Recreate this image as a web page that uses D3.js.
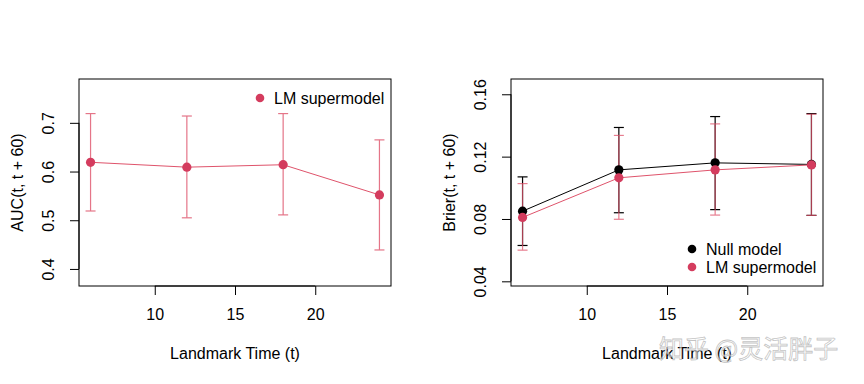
<!DOCTYPE html>
<html lang="en">
<head>
    <meta charset="UTF-8">
    <title>AUC and Brier by Landmark Time</title>
    <script src="https://d3js.org/d3.v7.min.js"></script>
    <style>
        body {
            margin: 0;
            background: #fff;
            font-family: "Liberation Sans", Arial, sans-serif;
        }
        .axis text {
            font-size: 16px;
            font-family: "Liberation Sans", Arial, sans-serif;
            fill: #000;
        }
        .title {
            font-size: 16px;
            fill: #000;
        }
    </style>
</head>
<body>
    <svg width="864" height="384"></svg>

    <script>
        // data
        const landmarks = [6, 12, 18, 24];

        const aucLM = [0.619, 0.609, 0.614, 0.552];
        const aucLMLow = [0.519, 0.505, 0.511, 0.439];
        const aucLMHigh = [0.719, 0.714, 0.719, 0.665];

        const brierNull = [0.085, 0.1115, 0.116, 0.115];
        const brierNullLow = [0.063, 0.084, 0.086, 0.0823];
        const brierNullHigh = [0.107, 0.1387, 0.1457, 0.1476];

        const brierLM = [0.081, 0.1064, 0.1115, 0.1147];
        const brierLMLow = [0.060, 0.0798, 0.0825, 0.0823];
        const brierLMHigh = [0.1027, 0.1336, 0.141, 0.1472];

        const xTicks = [10, 15, 20];
        const aucTicks = [0.4, 0.5, 0.6, 0.7];
        const brierTicks = [0.04, 0.08, 0.12, 0.16];

        const red = "#DF536B";
        const redPoint = "#D43C5E";

        const svg = d3.select("svg");
        const boxTop = 79, boxBottom = 286;

        function panel(left, right, yDomain, yTicks, yFormat, yTitle, series, legend) {
            const x = d3.scaleLinear().domain([5.28, 24.72]).range([left, right]);
            const y = d3.scaleLinear().domain(yDomain).range([boxBottom, boxTop]);
            const g = svg.append("g");

            // error bars first
            series.forEach(s => {
                const eb = g.append("g").attr("opacity", s.barOpacity);
                landmarks.forEach((t, i) => {
                    eb.append("line")
                        .attr("x1", x(t)).attr("x2", x(t))
                        .attr("y1", y(s.low[i])).attr("y2", y(s.high[i]))
                        .attr("stroke", s.color).attr("stroke-width", 1.2);
                    [s.low[i], s.high[i]].forEach(v => {
                        eb.append("line")
                            .attr("x1", x(t) - 5).attr("x2", x(t) + 5)
                            .attr("y1", y(v)).attr("y2", y(v))
                            .attr("stroke", s.color).attr("stroke-width", 1.2);
                    });
                });
            });

            series.forEach(s => {
                const line = d3.line()
                    .x((d, i) => x(landmarks[i]))
                    .y(d => y(d));
                g.append("path")
                    .datum(s.values)
                    .attr("d", line)
                    .attr("fill", "none")
                    .attr("stroke", s.color)
                    .attr("stroke-width", 1);
                g.selectAll(null)
                    .data(s.values)
                    .enter().append("circle")
                    .attr("cx", (d, i) => x(landmarks[i]))
                    .attr("cy", d => y(d))
                    .attr("r", 4.6)
                    .attr("fill", s.pointColor);
            });

            // box
            g.append("rect")
                .attr("x", left).attr("y", boxTop)
                .attr("width", right - left).attr("height", boxBottom - boxTop)
                .attr("fill", "none").attr("stroke", "#000").attr("stroke-width", 1);

            // axes
            const xAxis = g.append("g")
                .attr("class", "axis")
                .attr("transform", `translate(0,${boxBottom})`)
                .call(d3.axisBottom(x).tickValues(xTicks).tickSize(9).tickPadding(14).tickSizeOuter(0));
            xAxis.select(".domain").attr("d", `M${x(xTicks[0])},0H${x(xTicks[xTicks.length - 1])}`);

            const yAxis = g.append("g")
                .attr("class", "axis")
                .attr("transform", `translate(${left},0)`)
                .call(d3.axisLeft(y).tickValues(yTicks).tickFormat(yFormat).tickSize(9).tickSizeOuter(0));
            yAxis.select(".domain").attr("d", `M0,${y(yTicks[0])}V${y(yTicks[yTicks.length - 1])}`);
            yAxis.selectAll(".tick text")
                .attr("x", 0).attr("dy", null)
                .attr("text-anchor", "middle")
                .attr("transform", "translate(-31,0) rotate(-90)")
                .attr("y", 0).attr("dy", "0.35em");

            // titles
            svg.append("text")
                .attr("class", "title")
                .attr("x", (left + right) / 2).attr("y", 359)
                .attr("text-anchor", "middle")
                .text("Landmark Time (t)");
            svg.append("text")
                .attr("class", "title")
                .attr("transform", `translate(${left - 62},${(boxTop + boxBottom) / 2}) rotate(-90)`)
                .attr("text-anchor", "middle")
                .attr("dy", "0.35em")
                .text(yTitle);

            // legend
            legend.forEach((l, i) => {
                svg.append("circle")
                    .attr("cx", l.x).attr("cy", l.y)
                    .attr("r", 4.3).attr("fill", l.color);
                svg.append("text")
                    .attr("class", "title")
                    .attr("x", l.x + 14).attr("y", l.y)
                    .attr("dy", "0.36em")
                    .text(l.label);
            });
        }

        panel(79, 391, [0.365, 0.79], aucTicks, d3.format(".1f"), "AUC(t, t + 60)",
            [{values: aucLM, low: aucLMLow, high: aucLMHigh, color: red, pointColor: redPoint, barOpacity: 0.8}],
            [{x: 260, y: 98, color: redPoint, label: "LM supermodel"}]);

        panel(511, 823, [0.037, 0.1698], brierTicks, d3.format(".2f"), "Brier(t, t + 60)",
            [
                {values: brierNull, low: brierNullLow, high: brierNullHigh, color: "#000", pointColor: "#000", barOpacity: 1},
                {values: brierLM, low: brierLMLow, high: brierLMHigh, color: red, pointColor: redPoint, barOpacity: 0.75}
            ],
            [
                {x: 692, y: 249, color: "#000", label: "Null model"},
                {x: 692, y: 267, color: redPoint, label: "LM supermodel"}
            ]);

        // watermark
        svg.append("text")
            .attr("x", 659).attr("y", 358)
            .style("font-family", "'Noto Sans CJK SC', sans-serif")
            .style("font-size", "25px")
            .attr("fill", "#fff")
            .attr("fill-opacity", 0.6)
            .attr("stroke", "#888")
            .attr("stroke-opacity", 0.5)
            .attr("stroke-width", 0.8)
            .text("知乎 @灵活胖子");
    </script>
</body>
</html>
